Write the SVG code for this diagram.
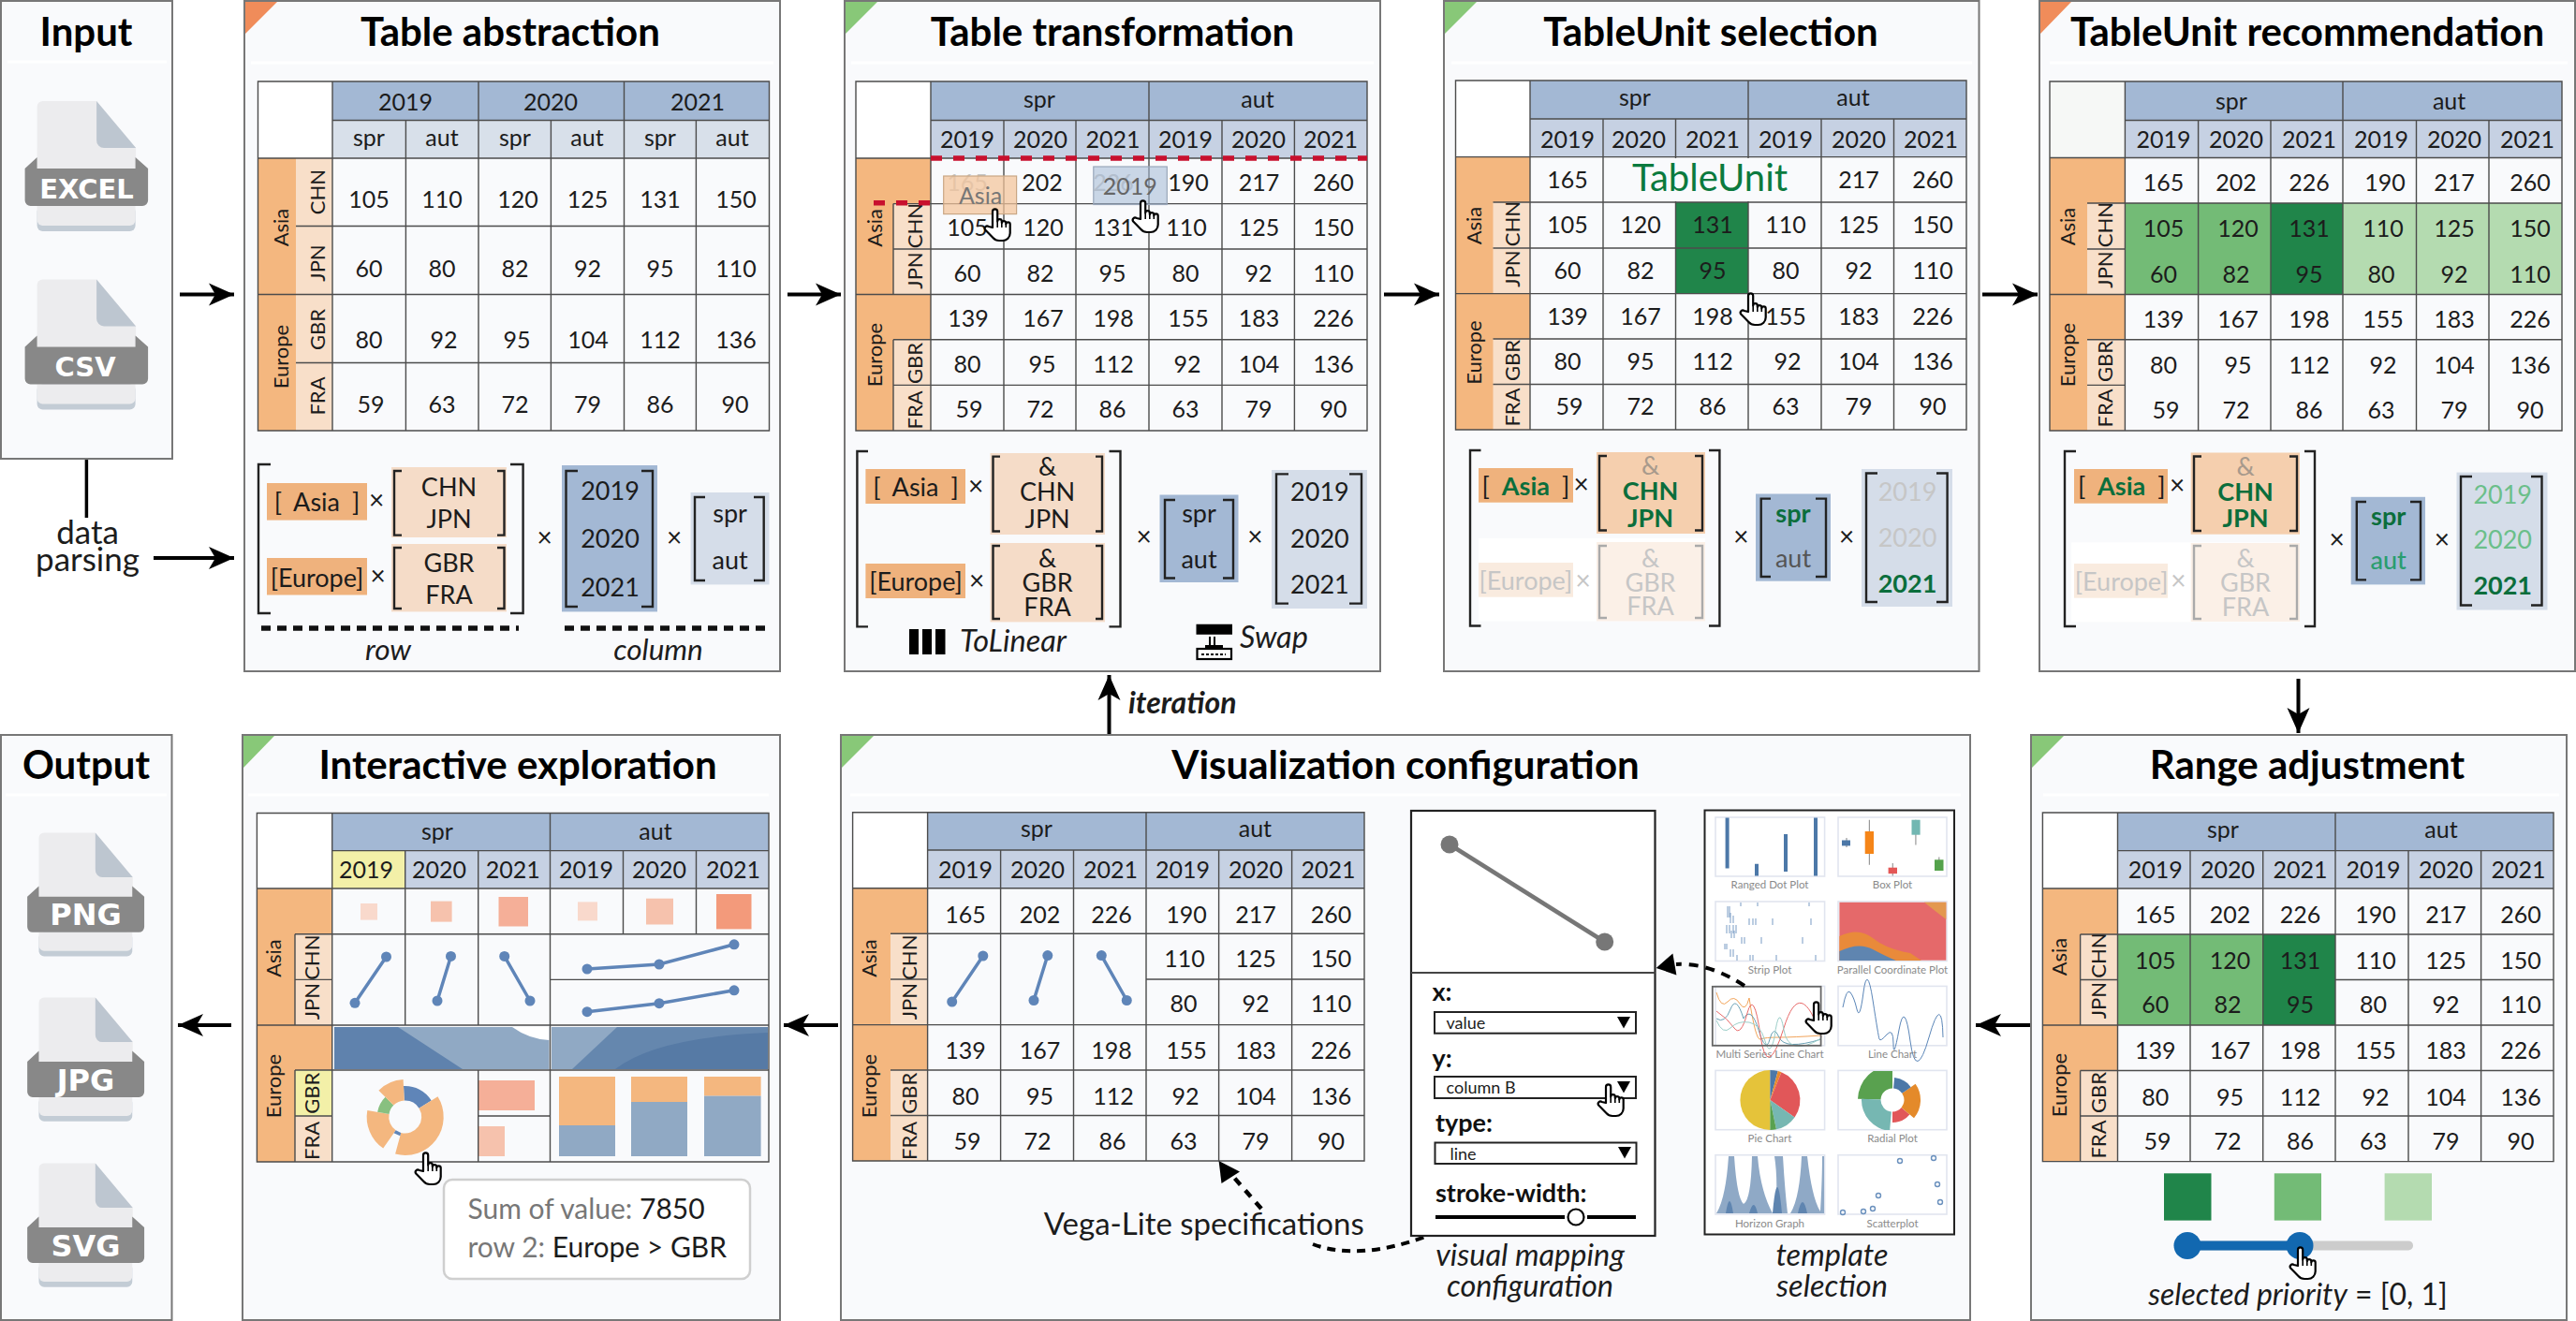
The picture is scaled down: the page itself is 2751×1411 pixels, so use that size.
<svg xmlns="http://www.w3.org/2000/svg" width="2751" height="1411" viewBox="0 0 2751 1411">
<style>
text{font-family:Lato,"Noto Sans","Liberation Sans",sans-serif;fill:#1c1c1c}
.p{fill:#f9fafc;stroke:#777;stroke-width:2}
.u{stroke:#fff;stroke-width:3;fill:none}
.h{font-size:42px;font-weight:700;text-anchor:middle;fill:#000}
.c{font-size:25px;text-anchor:middle}
.r{font-size:22px;text-anchor:middle}
.e{font-size:27px;text-anchor:middle}
.w{word-spacing:6px}
.x{font-size:28px;text-anchor:middle}
.i{font-size:32.500px;font-style:italic;text-anchor:middle}
.gb{font-weight:700;fill:#0b6e3c}
.fd{fill:#c6c6c6}
.ad{fill:#a89a8c}
.d{fill:#a3b8d4}
.s{fill:#c6d1e3}
.o{fill:#f4b77f}
.l{fill:#f8dfc9}
.grid{fill:none;stroke:#4c4c4c;stroke-width:1.4}
.b{fill:none;stroke:#222;stroke-width:2.4}
.bf{fill:none;stroke:#aaa;stroke-width:2.4}
.ft{font-family:"DejaVu Sans",sans-serif;font-weight:700;text-anchor:middle;fill:#fff}
.ln{fill:none;stroke:#5f85b8;stroke-width:3.5}
.dot{fill:#5f85b8}
.tb{fill:#fff;stroke:#e1e5ef;stroke-width:1.6}
.tl{font-size:11.500px;text-anchor:middle;fill:#8a8a8a}
.sel{fill:#fff;stroke:#222;stroke-width:2}
.lb{font-size:27px;font-weight:700;fill:#111}
.vl{font-size:18px}
</style>
<defs>
<marker id="ah" markerUnits="userSpaceOnUse" markerWidth="28" markerHeight="28" refX="27" refY="14" orient="auto"><path d="M0 2L27 14L0 26L7 14Z" fill="#000"/></marker>
<g id="file">
<rect x="0" y="112" width="105" height="27" rx="6" fill="#c3ccd5"/>
<path d="M0 112H105V127a6 6 0 0 1-6 6H6a6 6 0 0 1-6-6Z" fill="#ececee"/>
<path d="M6 0H63.5L105.5 50V72H0V6a6 6 0 0 1 6-6Z" fill="#ececee"/>
<path d="M63.5 0L105.5 50H72a8 8 0 0 1-8.5-8.5Z" fill="#bdc6d0"/>
<path d="M-13 72L0 60V72H105V60L118.5 72V106a6 6 0 0 1-6 6H-7a6 6 0 0 1-6-6Z" fill="#888"/>
</g>
<g id="hand">
<path d="M9 21V4a2.6 2.6 0 0 1 5.2 0V14.5a2.3 2.3 0 0 1 4.6 0V16a2.3 2.3 0 0 1 4.5 0V17.500a2.2 2.2 0 0 1 4.4 0V27a8 8 0 0 1-8 8H16a9 9 0 0 1-6.500-3L1.200 23.500a2.500 2.500 0 0 1 3.500-3.500Z" fill="#fff" stroke="#000" stroke-width="2.200" stroke-linejoin="round"/>
<path d="M14.200 14.500V21M18.800 16V21M23.300 17.500V21" fill="none" stroke="#000" stroke-width="1.600"/>
</g>
<clipPath id="rc"><rect x="1964" y="1144" width="115" height="63"/></clipPath>
</defs>

<g id="connectors">
<g fill="none" stroke="#000" stroke-width="4" marker-end="url(#ah)">
<path d="M192 314.500H250"/>
<path d="M164 596H250"/>
<path d="M841 314.500H898"/>
<path d="M1478 314.500H1537"/>
<path d="M2117 314.500H2176"/>
<path d="M2454.500 725V783"/>
<path d="M2168 1095H2110"/>
<path d="M895 1095H837"/>
<path d="M247 1095H190"/>
<path d="M1184.500 784V721"/>
</g>
<path d="M92.400 489V553" stroke="#000" stroke-width="3.500" fill="none"/>
</g>

<g id="input">
<rect class="p" x="1" y="1" width="183" height="489"/>
<path class="u" d="M8 66H178"/>
<text class="h" x="92" y="49">Input</text>
<use href="#file" x="39.600" y="108"/>
<text class="ft" x="92.500" y="212" font-size="29">EXCEL</text>
<use href="#file" x="39.600" y="298.400"/>
<text class="ft" x="91" y="402" font-size="29">CSV</text>
</g>
<g id="parsing">
<text class="c" x="93.500" y="581" style="font-size:35px">data</text>
<text class="c" x="93.500" y="610" style="font-size:35px">parsing</text>
</g>

<g id="table-abstraction">
<rect class="p" x="261" y="1" width="572" height="716"/>
<path d="M262 2H296L262 36Z" fill="#f08c5a"/>
<path class="u" d="M268 67H826"/>
<text class="h" x="545" y="49">Table abstraction</text>
<rect x="275.500" y="87" width="79.500" height="82" fill="#fff"/>
<rect class="d" x="355" y="87" width="466.500" height="41.500"/>
<rect x="355" y="128.500" width="466.500" height="40.500" fill="#d8e0ea"/>
<rect class="o" x="275.500" y="169" width="40.500" height="291"/>
<rect class="l" x="316" y="169" width="39" height="291"/>
<path class="grid" d="M275.500 87H821.500V460H275.500ZM355 87V460M355 128.500H821.500M275.500 169H821.500M316 241.500H821.500M275.500 314.500H821.500M316 387.500H821.500M511 87V460M666.500 87V460M433.400 128.500V460M588.400 128.500V460M743.400 128.500V460"/>
<text class="c" x="433" y="118">2019</text><text class="c" x="588" y="118">2020</text><text class="c" x="745" y="118">2021</text>
<text class="c" x="394" y="156">spr</text><text class="c" x="472" y="156">aut</text><text class="c" x="550" y="156">spr</text><text class="c" x="627" y="156">aut</text><text class="c" x="705" y="156">spr</text><text class="c" x="782" y="156">aut</text>
<text class="r" x="307.700" y="243" transform="rotate(-90 307.700 243)">Asia</text>
<text class="r" x="307.700" y="381" transform="rotate(-90 307.700 381)">Europe</text>
<text class="r" x="346.700" y="205" transform="rotate(-90 346.700 205)">CHN</text>
<text class="r" x="346.700" y="281" transform="rotate(-90 346.700 281)">JPN</text>
<text class="r" x="346.700" y="352" transform="rotate(-90 346.700 352)">GBR</text>
<text class="r" x="346.700" y="423" transform="rotate(-90 346.700 423)">FRA</text>
<text class="c" x="394" y="222">105</text><text class="c" x="472" y="222">110</text><text class="c" x="553" y="222">120</text><text class="c" x="627.500" y="222">125</text><text class="c" x="705" y="222">131</text><text class="c" x="786" y="222">150</text>
<text class="c" x="394" y="296">60</text><text class="c" x="472" y="296">80</text><text class="c" x="550" y="296">82</text><text class="c" x="627.500" y="296">92</text><text class="c" x="705" y="296">95</text><text class="c" x="786" y="296">110</text>
<text class="c" x="394" y="372">80</text><text class="c" x="474" y="372">92</text><text class="c" x="552" y="372">95</text><text class="c" x="628" y="372">104</text><text class="c" x="705" y="372">112</text><text class="c" x="786" y="372">136</text>
<text class="c" x="396" y="441">59</text><text class="c" x="472" y="441">63</text><text class="c" x="550" y="441">72</text><text class="c" x="627.500" y="441">79</text><text class="c" x="705" y="441">86</text><text class="c" x="785" y="441">90</text>
<path class="b" d="M289 496H276V655H289M545 496H558.600V655H545"/>
<rect x="285" y="516" width="107" height="39.600" fill="#efb27d"/>
<text class="e w" x="338.500" y="545.500">[ Asia ]</text>
<text class="x" x="402" y="544">×</text>
<rect x="418" y="499" width="123" height="75" fill="#f5dcc8"/>
<path class="b" d="M429 503H421V571.600H429M531 503H538.500V571.600H531"/>
<text class="e" x="479.500" y="529.500">CHN</text><text class="e" x="479.500" y="564">JPN</text>
<rect x="285" y="596" width="107" height="39.500" fill="#efb27d"/>
<text class="e" x="338.500" y="626.700">[Europe]</text>
<text class="x" x="403.500" y="625">×</text>
<rect x="418" y="581" width="123" height="72.400" fill="#f5dcc8"/>
<path class="b" d="M429 585H421V650H429M531 585H538.500V650H531"/>
<text class="e" x="479.500" y="610.600">GBR</text><text class="e" x="479.500" y="645">FRA</text>
<text class="x" x="581.500" y="584">×</text>
<rect class="d" x="600" y="497" width="102" height="156.400"/>
<path class="b" d="M617 503H604.500V648H617M685 503H697V648H685"/>
<text class="e" x="651.500" y="533.500">2019</text><text class="e" x="651.500" y="585.400">2020</text><text class="e" x="651.500" y="637">2021</text>
<text class="x" x="720" y="584">×</text>
<rect x="737.600" y="526" width="83.900" height="98.400" fill="#d5dde9"/>
<path class="b" d="M753 531H742V620H753M805 531H815.700V620H805"/>
<text class="e" x="779.600" y="558">spr</text><text class="e" x="779.600" y="608">aut</text>
<path d="M279 671H554M603 671H821.500" fill="none" stroke="#111" stroke-width="5.500" stroke-dasharray="10 7"/>
<text class="i" x="414.500" y="705" style="font-size:31.500px">row</text><text class="i" x="703" y="705" style="font-size:31.500px">column</text>
</g>

<g id="table-transformation">
<rect class="p" x="902" y="1" width="572" height="716"/>
<path d="M903 2H937L903 36Z" fill="#88c878"/>
<path class="u" d="M909 67H1467"/>
<text class="h" x="1188" y="49">Table transformation</text>
<rect x="914" y="87" width="80" height="82" fill="#fff"/>
<rect class="d" x="994" y="87" width="466" height="41.500"/>
<rect class="s" x="994" y="128.500" width="466" height="40.500"/>
<rect class="o" x="914" y="169" width="80" height="291"/>
<rect class="l" x="954" y="217.600" width="40" height="96.900"/>
<rect class="l" x="954" y="362.700" width="40" height="97.300"/>
<path class="grid" d="M914 87H1460V460H914ZM994 87V460M954 217.600V314.500M954 362.700V460M994 128.500H1460M914 169H1460M954 217.600H1460M954 266H1460M914 314.500H1460M954 362.700H1460M954 411.400H1460M1227 87V460M1072 128.500V460M1149 128.500V460M1305 128.500V460M1382.400 128.500V460"/>
<text class="c" x="1110" y="115">spr</text><text class="c" x="1343" y="115">aut</text>
<text class="c" x="1033" y="157.500">2019</text><text class="c" x="1111" y="157.500">2020</text><text class="c" x="1188.500" y="157.500">2021</text><text class="c" x="1266" y="157.500">2019</text><text class="c" x="1344" y="157.500">2020</text><text class="c" x="1421" y="157.500">2021</text>
<text class="r" x="942.400" y="243.400" transform="rotate(-90 942.400 243.400)">Asia</text>
<text class="r" x="942.400" y="379" transform="rotate(-90 942.400 379)">Europe</text>
<text class="r" x="985" y="241" transform="rotate(-90 985 241)">CHN</text>
<text class="r" x="985" y="289" transform="rotate(-90 985 289)">JPN</text>
<text class="r" x="985" y="388" transform="rotate(-90 985 388)">GBR</text>
<text class="r" x="985" y="438" transform="rotate(-90 985 438)">FRA</text>
<text class="c fd" x="1033" y="204">165</text><text class="c" x="1113" y="204">202</text><text class="c fd" x="1189" y="204">226</text><text class="c" x="1269" y="204">190</text><text class="c" x="1344.600" y="204">217</text><text class="c" x="1424" y="204">260</text>
<text class="c" x="1033" y="252">105</text><text class="c" x="1114" y="252">120</text><text class="c" x="1189" y="252">131</text><text class="c" x="1267" y="252">110</text><text class="c" x="1344.600" y="252">125</text><text class="c" x="1424" y="252">150</text>
<text class="c" x="1033" y="300.700">60</text><text class="c" x="1111" y="300.700">82</text><text class="c" x="1188" y="300.700">95</text><text class="c" x="1266" y="300.700">80</text><text class="c" x="1344" y="300.700">92</text><text class="c" x="1424" y="300.700">110</text>
<text class="c" x="1034" y="349">139</text><text class="c" x="1114" y="349">167</text><text class="c" x="1189" y="349">198</text><text class="c" x="1269" y="349">155</text><text class="c" x="1344.600" y="349">183</text><text class="c" x="1424" y="349">226</text>
<text class="c" x="1033" y="398">80</text><text class="c" x="1113" y="398">95</text><text class="c" x="1189" y="398">112</text><text class="c" x="1268" y="398">92</text><text class="c" x="1344.600" y="398">104</text><text class="c" x="1424" y="398">136</text>
<text class="c" x="1035" y="445.500">59</text><text class="c" x="1111" y="445.500">72</text><text class="c" x="1188" y="445.500">86</text><text class="c" x="1266" y="445.500">63</text><text class="c" x="1344" y="445.500">79</text><text class="c" x="1424" y="445.500">90</text>
<path d="M994 169H1460M933 216.700H994" fill="none" stroke="#c8102e" stroke-width="5.500" stroke-dasharray="12 12"/>
<rect x="1007.700" y="188" width="77.900" height="40.600" fill="#f3c39a" fill-opacity=".72" stroke="#c9a785" stroke-width="1.200"/>
<text class="c" x="1047" y="218" style="fill:#777">Asia</text>
<rect x="1167.800" y="178" width="78.500" height="40.500" fill="#a3b8d4" fill-opacity=".55" stroke="#9aa7ba" stroke-width="1.200"/>
<text class="c" x="1206.700" y="208" style="fill:#666">2019</text>
<use href="#hand" x="1051" y="222"/>
<use href="#hand" x="1209" y="213"/>
<path class="b" d="M927 482H915.400V669.400H927M1184.500 482H1196.500V669.400H1184.500"/>
<rect x="924.400" y="501" width="106.600" height="37" fill="#efb27d"/>
<text class="e w" x="978" y="530">[ Asia ]</text>
<text class="x" x="1042" y="529">×</text>
<rect x="1057.500" y="484" width="122.500" height="87" fill="#f5dcc8"/>
<path class="b" d="M1068 487.600H1060.500V567.500H1068M1170 487.600H1177V567.500H1170"/>
<text class="e" x="1118.600" y="508">&amp;</text><text class="e" x="1118.600" y="535">CHN</text><text class="e" x="1118.600" y="564">JPN</text>
<rect x="924.400" y="602" width="106.600" height="37" fill="#efb27d"/>
<text class="e" x="978" y="631">[Europe]</text>
<text class="x" x="1043" y="630">×</text>
<rect x="1057.500" y="580" width="122.500" height="84.400" fill="#f5dcc8"/>
<path class="b" d="M1068 583H1060.500V661H1068M1170 583H1177V661H1170"/>
<text class="e" x="1118.600" y="606">&amp;</text><text class="e" x="1118.600" y="632">GBR</text><text class="e" x="1118.600" y="658">FRA</text>
<text class="x" x="1221.700" y="583">×</text>
<rect class="d" x="1238.500" y="528.500" width="84" height="93.500"/>
<path class="b" d="M1255 534H1244V617.500H1255M1306 534H1317V617.500H1306"/>
<text class="e" x="1280.500" y="558">spr</text><text class="e" x="1280.500" y="607">aut</text>
<text class="x" x="1340.400" y="583">×</text>
<rect x="1358" y="502" width="102" height="148" fill="#d5dde9"/>
<path class="b" d="M1376 506.400H1363V644.600H1376M1441 506.400H1454V644.600H1441"/>
<text class="e" x="1409.400" y="535">2019</text><text class="e" x="1409.400" y="584.500">2020</text><text class="e" x="1409.400" y="633.600">2021</text>
<path d="M971 672h10v27h-10zM985 672h10v27h-10zM999 672h10.500v27h-10.500z" fill="#000"/>
<text class="i" x="1025" y="695.600" style="text-anchor:start">ToLinear</text>
<path d="M1277.500 666.700h38.500v11h-38.500zM1291 680h2v9h-2zM1296 680h2v9h-2zM1287 689h19v3h-19z" fill="#000"/>
<rect x="1278.500" y="693" width="36.500" height="11" fill="#fff" stroke="#000" stroke-width="2.200"/>
<path d="M1283 699h26" stroke="#000" stroke-width="2" stroke-dasharray="3 2"/>
<text class="i" x="1324" y="692" style="text-anchor:start">Swap</text>
</g>

<g id="tableunit-selection">
<rect class="p" x="1542" y="1" width="571.500" height="716"/>
<path d="M1543 2H1577L1543 36Z" fill="#88c878"/>
<path class="u" d="M1550 67H2106"/>
<text class="h" x="1827" y="49">TableUnit selection</text>
<rect x="1554.500" y="86" width="79.500" height="81.600" fill="#fff"/>
<rect class="d" x="1634" y="86" width="466" height="41"/>
<rect class="s" x="1634" y="127" width="466" height="40.600"/>
<rect class="o" x="1554.500" y="167.600" width="79.500" height="291.400"/>
<rect class="l" x="1594.500" y="216" width="39.500" height="97.600"/>
<rect class="l" x="1594.500" y="362" width="39.500" height="97"/>
<rect x="1789.500" y="216" width="77.500" height="97.600" fill="#20854a"/>
<path class="grid" d="M1554.500 86H2100V459H1554.500ZM1634 86V459M1634 127H2100M1554.500 167.600H2100M1594.500 216H2100M1594.500 265H2100M1554.500 313.600H2100M1594.500 362H2100M1594.500 410.500H2100M1867 86V459M1712 127V459M1789.500 127V459M1945 127V459M2022.500 127V459"/>
<text class="c" x="1746" y="113.400">spr</text><text class="c" x="1979" y="113.400">aut</text>
<text class="c" x="1674" y="157.500">2019</text><text class="c" x="1750" y="157.500">2020</text><text class="c" x="1829" y="157.500">2021</text><text class="c" x="1907" y="157.500">2019</text><text class="c" x="1985" y="157.500">2020</text><text class="c" x="2062" y="157.500">2021</text>
<text class="r" x="1581.500" y="241" transform="rotate(-90 1581.500 241)">Asia</text>
<text class="r" x="1581.500" y="376.500" transform="rotate(-90 1581.500 376.500)">Europe</text>
<text class="r" x="1623.400" y="239" transform="rotate(-90 1623.400 239)">CHN</text>
<text class="r" x="1623.400" y="287" transform="rotate(-90 1623.400 287)">JPN</text>
<text class="r" x="1623.400" y="385" transform="rotate(-90 1623.400 385)">GBR</text>
<text class="r" x="1623.400" y="435" transform="rotate(-90 1623.400 435)">FRA</text>
<text class="c" x="1674" y="201">165</text><rect x="1713" y="169" width="230" height="46" fill="#f9fafc"/><text x="1826" y="204" text-anchor="middle" style="font-size:40px;fill:#0b7a3e">TableUnit</text><text class="c" x="1985" y="201">217</text><text class="c" x="2064" y="201">260</text>
<text class="c" x="1674" y="249">105</text><text class="c" x="1752" y="249">120</text><text class="c" x="1829" y="249">131</text><text class="c" x="1907" y="249">110</text><text class="c" x="1985" y="249">125</text><text class="c" x="2064" y="249">150</text>
<text class="c" x="1674" y="298.400">60</text><text class="c" x="1752" y="298.400">82</text><text class="c" x="1829" y="298.400">95</text><text class="c" x="1907" y="298.400">80</text><text class="c" x="1985" y="298.400">92</text><text class="c" x="2064" y="298.400">110</text>
<text class="c" x="1674" y="346.600">139</text><text class="c" x="1752" y="346.600">167</text><text class="c" x="1829" y="346.600">198</text><text class="c" x="1907" y="346.600">155</text><text class="c" x="1985" y="346.600">183</text><text class="c" x="2064" y="346.600">226</text>
<text class="c" x="1674" y="395">80</text><text class="c" x="1752" y="395">95</text><text class="c" x="1829" y="395">112</text><text class="c" x="1909" y="395">92</text><text class="c" x="1985" y="395">104</text><text class="c" x="2064" y="395">136</text>
<text class="c" x="1676" y="443">59</text><text class="c" x="1752" y="443">72</text><text class="c" x="1829" y="443">86</text><text class="c" x="1907" y="443">63</text><text class="c" x="1985" y="443">79</text><text class="c" x="2064" y="443">90</text>
<use href="#hand" x="1858" y="312" />
<rect x="1579" y="575" width="242" height="88.500" fill="#fff"/>
<path class="b" d="M1581.500 481H1570V668.500H1581.500M1825 481H1836.400V668.500H1825"/>
<rect x="1579" y="500" width="101" height="36.700" fill="#efb27d"/>
<text class="e w" x="1629.400" y="529">[ <tspan class="gb">Asia</tspan> ]</text>
<text class="x" x="1688.700" y="527">×</text>
<rect x="1705" y="483" width="116" height="87" fill="#f5cfae"/>
<path class="b" d="M1716 487H1708V566.500H1716M1810 487H1818V566.500H1810"/>
<text class="e ad" x="1762.500" y="507">&amp;</text><text class="e gb" x="1762.500" y="534">CHN</text><text class="e gb" x="1762.500" y="562.500">JPN</text>
<rect x="1579" y="601" width="101" height="36.700" fill="#f9ebdf"/>
<text class="e fd" x="1629.400" y="630">[Europe]</text>
<text class="x fd" x="1690.500" y="630">×</text>
<rect x="1705" y="579" width="116" height="84.500" fill="#fbf0e7"/>
<path class="bf" d="M1716 583H1708V660H1716M1810 583H1818V660H1810"/>
<text class="e fd" x="1762.500" y="606">&amp;</text><text class="e fd" x="1762.500" y="632">GBR</text><text class="e fd" x="1762.500" y="656.600">FRA</text>
<text class="x" x="1859.400" y="583">×</text>
<rect class="d" x="1875" y="527.500" width="80" height="93.200"/>
<path class="b" d="M1891 532.600H1880.700V616H1891M1939 532.600H1950V616H1939"/>
<text class="e gb" x="1915" y="558">spr</text><text class="e" x="1915" y="606" style="fill:#555">aut</text>
<text class="x" x="1972" y="583">×</text>
<rect x="1988" y="501" width="97" height="147" fill="#d5dde9"/>
<path class="b" d="M2005 505.500H1993V643H2005M2068 505.500H2079.600V643H2068"/>
<text class="e fd" x="2037" y="535">2019</text><text class="e fd" x="2037" y="583.600">2020</text><text class="e gb" x="2037" y="632.700">2021</text>
</g>

<g id="tableunit-recommendation">
<rect class="p" x="2178" y="1" width="572" height="716"/>
<path d="M2179 2H2212L2179 36Z" fill="#f08c5a"/>
<path class="u" d="M2189 67H2742"/>
<text class="h" x="2464" y="49">TableUnit recommendation</text>
<rect x="2189" y="87" width="80.400" height="81.500" fill="#f6f8f6"/>
<rect class="d" x="2269.400" y="87" width="466.600" height="41.500"/>
<rect class="s" x="2269.400" y="128.500" width="466.600" height="40"/>
<rect class="o" x="2189" y="168.500" width="80.400" height="291.500"/>
<rect class="l" x="2229" y="217" width="40.400" height="97.500"/>
<rect class="l" x="2229" y="362.700" width="40.400" height="97.300"/>
<rect x="2269.400" y="217" width="155.600" height="97.500" fill="#73bb76"/>
<rect x="2425" y="217" width="77" height="97.500" fill="#20854a"/>
<rect x="2502" y="217" width="234" height="97.500" fill="#b4dbb0"/>
<path class="grid" d="M2189 87H2736V460H2189ZM2269.400 87V460M2269.400 128.500H2736M2189 168.500H2736M2229 217H2736M2189 314.500H2736M2229 362.700H2736M2229 266H2269.400M2229 411.400H2269.400M2502 87V460M2347.600 128.500V460M2425 128.500V460M2580.500 128.500V460M2658 128.500V460"/>
<text class="c" x="2383" y="117">spr</text><text class="c" x="2615.600" y="117">aut</text>
<text class="c" x="2310.600" y="157.500">2019</text><text class="c" x="2388" y="157.500">2020</text><text class="c" x="2466" y="157.500">2021</text><text class="c" x="2543" y="157.500">2019</text><text class="c" x="2621" y="157.500">2020</text><text class="c" x="2699" y="157.500">2021</text>
<text class="r" x="2216" y="242" transform="rotate(-90 2216 242)">Asia</text>
<text class="r" x="2216" y="379" transform="rotate(-90 2216 379)">Europe</text>
<text class="r" x="2256" y="240" transform="rotate(-90 2256 240)">CHN</text>
<text class="r" x="2256" y="288" transform="rotate(-90 2256 288)">JPN</text>
<text class="r" x="2256" y="386" transform="rotate(-90 2256 386)">GBR</text>
<text class="r" x="2256" y="436" transform="rotate(-90 2256 436)">FRA</text>
<text class="c" x="2310.600" y="204">165</text><text class="c" x="2388" y="204">202</text><text class="c" x="2466" y="204">226</text><text class="c" x="2547" y="204">190</text><text class="c" x="2621" y="204">217</text><text class="c" x="2702" y="204">260</text>
<text class="c" x="2310.600" y="252.500">105</text><text class="c" x="2390" y="252.500">120</text><text class="c" x="2466" y="252.500">131</text><text class="c" x="2545" y="252.500">110</text><text class="c" x="2621" y="252.500">125</text><text class="c" x="2702" y="252.500">150</text>
<text class="c" x="2310.600" y="301.600">60</text><text class="c" x="2388" y="301.600">82</text><text class="c" x="2466" y="301.600">95</text><text class="c" x="2543" y="301.600">80</text><text class="c" x="2621" y="301.600">92</text><text class="c" x="2702" y="301.600">110</text>
<text class="c" x="2310.600" y="350">139</text><text class="c" x="2390" y="350">167</text><text class="c" x="2466" y="350">198</text><text class="c" x="2545" y="350">155</text><text class="c" x="2621" y="350">183</text><text class="c" x="2702" y="350">226</text>
<text class="c" x="2310.600" y="398.500">80</text><text class="c" x="2390" y="398.500">95</text><text class="c" x="2466" y="398.500">112</text><text class="c" x="2545" y="398.500">92</text><text class="c" x="2621" y="398.500">104</text><text class="c" x="2702" y="398.500">136</text>
<text class="c" x="2313" y="446.700">59</text><text class="c" x="2388" y="446.700">72</text><text class="c" x="2466" y="446.700">86</text><text class="c" x="2543" y="446.700">63</text><text class="c" x="2621" y="446.700">79</text><text class="c" x="2702" y="446.700">90</text>
<rect x="2212" y="579.400" width="244" height="85" fill="#fff"/>
<path class="b" d="M2217 482H2205V669H2217M2461 482H2472V669H2461"/>
<rect x="2215" y="501" width="100" height="36.700" fill="#efb27d"/>
<text class="e w" x="2265.700" y="529">[ <tspan class="gb">Asia</tspan> ]</text>
<text class="x" x="2325" y="528">×</text>
<rect x="2339.700" y="483.500" width="116.300" height="87.200" fill="#f5cfae"/>
<path class="b" d="M2351 487.500H2343V567H2351M2445 487.500H2453V567H2445"/>
<text class="e ad" x="2398" y="508">&amp;</text><text class="e gb" x="2398" y="535">CHN</text><text class="e gb" x="2398" y="562.500">JPN</text>
<rect x="2215" y="602" width="100" height="36.700" fill="#f9ebdf"/>
<text class="e fd" x="2265.700" y="631">[Europe]</text>
<text class="x fd" x="2326.400" y="630">×</text>
<rect x="2339.700" y="580" width="116.300" height="84" fill="#fbf0e7"/>
<path class="bf" d="M2351 583H2343V661H2351M2445 583H2453V661H2445"/>
<text class="e fd" x="2398" y="606">&amp;</text><text class="e fd" x="2398" y="632">GBR</text><text class="e fd" x="2398" y="657.500">FRA</text>
<text class="x" x="2495.600" y="586">×</text>
<rect class="d" x="2510.700" y="530.800" width="79.300" height="93.600"/>
<path class="b" d="M2527 536H2516.800V619.400H2527M2574 536H2585V619.400H2574"/>
<text class="e gb" x="2550.700" y="561">spr</text><text class="e" x="2550.700" y="608" style="fill:#2a9d6f;font-weight:500">aut</text>
<text class="x" x="2607.800" y="586">×</text>
<rect x="2623.500" y="504.600" width="97" height="146.900" fill="#d5dde9"/>
<path class="b" d="M2640 509H2628V646.500H2640M2703 509H2714.500V646.500H2703"/>
<text class="e" x="2672.700" y="538" style="fill:#6bbf8a">2019</text><text class="e" x="2672.700" y="586" style="fill:#6bbf8a">2020</text><text class="e gb" x="2672.700" y="635">2021</text>
</g>

<g id="range-adjustment">
<rect class="p" x="2169" y="785" width="572" height="625"/>
<path d="M2170 786H2204L2170 820Z" fill="#88c878"/>
<path class="u" d="M2182 849H2733"/>
<text class="h" x="2464" y="832">Range adjustment</text>
<rect x="2181.400" y="868" width="80.100" height="81" fill="#fff"/>
<rect class="d" x="2261.500" y="868" width="465.500" height="40.600"/>
<rect class="s" x="2261.500" y="908.600" width="465.500" height="40.400"/>
<rect class="o" x="2181.400" y="949" width="80.100" height="291.600"/>
<rect class="l" x="2221.600" y="998" width="39.900" height="97"/>
<rect class="l" x="2221.600" y="1143.500" width="39.900" height="97.100"/>
<rect x="2261.500" y="998" width="155.200" height="97" fill="#73bb76"/>
<rect x="2416.700" y="998" width="77.300" height="97" fill="#20854a"/>
<path class="grid" d="M2181.400 868H2727V1240.600H2181.400ZM2261.500 868V1240.600M2221.600 998V1095M2221.600 1143.500V1240.600M2261.500 908.600H2727M2181.400 949H2727M2221.600 998H2727M2494 1046.500H2727M2221.600 1046.500H2261.500M2181.400 1095H2727M2221.600 1143.500H2727M2221.600 1192H2727M2494 868V1240.600M2339 908.600V1240.600M2416.700 908.600V1240.600M2572 908.600V1240.600M2649.600 908.600V1240.600"/>
<text class="c" x="2374" y="895">spr</text><text class="c" x="2607" y="895">aut</text>
<text class="c" x="2301.700" y="938">2019</text><text class="c" x="2379" y="938">2020</text><text class="c" x="2456.600" y="938">2021</text><text class="c" x="2534.500" y="938">2019</text><text class="c" x="2612" y="938">2020</text><text class="c" x="2689.500" y="938">2021</text>
<text class="r" x="2207" y="1022" transform="rotate(-90 2207 1022)">Asia</text>
<text class="r" x="2207" y="1159" transform="rotate(-90 2207 1159)">Europe</text>
<text class="r" x="2248.600" y="1020.600" transform="rotate(-90 2248.600 1020.600)">CHN</text>
<text class="r" x="2248.600" y="1068.700" transform="rotate(-90 2248.600 1068.700)">JPN</text>
<text class="r" x="2248.600" y="1167" transform="rotate(-90 2248.600 1167)">GBR</text>
<text class="r" x="2248.600" y="1217" transform="rotate(-90 2248.600 1217)">FRA</text>
<text class="c" x="2301.700" y="985.700">165</text><text class="c" x="2381.400" y="985.700">202</text><text class="c" x="2456.600" y="985.700">226</text><text class="c" x="2537" y="985.700">190</text><text class="c" x="2612" y="985.700">217</text><text class="c" x="2692" y="985.700">260</text>
<text class="c" x="2301.700" y="1034.700">105</text><text class="c" x="2381.400" y="1034.700">120</text><text class="c" x="2456.600" y="1034.700">131</text><text class="c" x="2537" y="1034.700">110</text><text class="c" x="2612" y="1034.700">125</text><text class="c" x="2692" y="1034.700">150</text>
<text class="c" x="2301.700" y="1082">60</text><text class="c" x="2379" y="1082">82</text><text class="c" x="2456.600" y="1082">95</text><text class="c" x="2534.500" y="1082">80</text><text class="c" x="2612" y="1082">92</text><text class="c" x="2692" y="1082">110</text>
<text class="c" x="2301.700" y="1131">139</text><text class="c" x="2381.400" y="1131">167</text><text class="c" x="2456.600" y="1131">198</text><text class="c" x="2537" y="1131">155</text><text class="c" x="2612" y="1131">183</text><text class="c" x="2692" y="1131">226</text>
<text class="c" x="2301.700" y="1180.700">80</text><text class="c" x="2381.400" y="1180.700">95</text><text class="c" x="2456.600" y="1180.700">112</text><text class="c" x="2537" y="1180.700">92</text><text class="c" x="2612" y="1180.700">104</text><text class="c" x="2692" y="1180.700">136</text>
<text class="c" x="2304" y="1228">59</text><text class="c" x="2379" y="1228">72</text><text class="c" x="2456.600" y="1228">86</text><text class="c" x="2534.500" y="1228">63</text><text class="c" x="2612" y="1228">79</text><text class="c" x="2692" y="1228">90</text>
<rect x="2311" y="1253.300" width="50.500" height="50.300" fill="#20854a"/>
<rect x="2428.800" y="1253.300" width="50.200" height="50.300" fill="#73bb76"/>
<rect x="2546.600" y="1253.300" width="50.400" height="50.300" fill="#b4dbb0"/>
<path d="M2336 1330.400H2572" stroke="#ccc" stroke-width="10" stroke-linecap="round"/>
<path d="M2336 1330.400H2456" stroke="#1268b0" stroke-width="10"/>
<circle cx="2336" cy="1330.400" r="14.500" fill="#1268b0"/>
<circle cx="2456" cy="1330.400" r="14.500" fill="#1268b0"/>
<use href="#hand" x="2445" y="1331"/>
<text x="2454" y="1394" text-anchor="middle" style="font-size:32px"><tspan font-style="italic">selected priority</tspan> = [0, 1]</text>
</g>

<g id="visualization-configuration">
<rect class="p" x="898" y="785" width="1206" height="625"/>
<path d="M899 786H933L899 820Z" fill="#88c878"/>
<path class="u" d="M908 849H2094"/>
<text class="h" x="1501" y="832">Visualization configuration</text>
<rect x="910.600" y="867.700" width="80" height="81" fill="#fff"/>
<rect class="d" x="990.600" y="867.700" width="466.400" height="40.300"/>
<rect class="s" x="990.600" y="908" width="466.400" height="40.700"/>
<rect class="o" x="910.600" y="948.700" width="80" height="291.300"/>
<rect class="l" x="951" y="997.300" width="39.600" height="97.300"/>
<rect class="l" x="951" y="1143" width="39.600" height="97"/>
<path class="grid" d="M910.600 867.700H1457V1240H910.600ZM990.600 867.700V1240M990.600 908H1457M910.600 948.700H1457M951 997.300H1457M1224 1046H1457M951 1046H990.600M910.600 1094.600H1457M951 1143H1457M951 1191.500H1457M1224 867.700V1240M1068.600 908V1240M1146.500 908V1240M1301.600 908V1240M1379.600 908V1240"/>
<text class="c" x="1107" y="894">spr</text><text class="c" x="1340.400" y="894">aut</text>
<text class="c" x="1031" y="938">2019</text><text class="c" x="1108" y="938">2020</text><text class="c" x="1186" y="938">2021</text><text class="c" x="1263" y="938">2019</text><text class="c" x="1341" y="938">2020</text><text class="c" x="1418.500" y="938">2021</text>
<text class="r" x="936.300" y="1023.500" transform="rotate(-90 936.300 1023.500)">Asia</text>
<text class="r" x="936.300" y="1160" transform="rotate(-90 936.300 1160)">Europe</text>
<text class="r" x="978.800" y="1022.700" transform="rotate(-90 978.800 1022.700)">CHN</text>
<text class="r" x="978.800" y="1069.700" transform="rotate(-90 978.800 1069.700)">JPN</text>
<text class="r" x="978.800" y="1167.800" transform="rotate(-90 978.800 1167.800)">GBR</text>
<text class="r" x="978.800" y="1218.500" transform="rotate(-90 978.800 1218.500)">FRA</text>
<text class="c" x="1031" y="986">165</text><text class="c" x="1110.600" y="986">202</text><text class="c" x="1187" y="986">226</text><text class="c" x="1267" y="986">190</text><text class="c" x="1341" y="986">217</text><text class="c" x="1421.600" y="986">260</text>
<text class="c" x="1265" y="1033">110</text><text class="c" x="1341" y="1033">125</text><text class="c" x="1421.600" y="1033">150</text>
<text class="c" x="1264" y="1080.700">80</text><text class="c" x="1341" y="1080.700">92</text><text class="c" x="1421.600" y="1080.700">110</text>
<text class="c" x="1031" y="1131">139</text><text class="c" x="1110.600" y="1131">167</text><text class="c" x="1187" y="1131">198</text><text class="c" x="1267" y="1131">155</text><text class="c" x="1341" y="1131">183</text><text class="c" x="1421.600" y="1131">226</text>
<text class="c" x="1031" y="1180">80</text><text class="c" x="1110.600" y="1180">95</text><text class="c" x="1189" y="1180">112</text><text class="c" x="1266" y="1180">92</text><text class="c" x="1341" y="1180">104</text><text class="c" x="1421.600" y="1180">136</text>
<text class="c" x="1033" y="1228">59</text><text class="c" x="1108" y="1228">72</text><text class="c" x="1188" y="1228">86</text><text class="c" x="1264" y="1228">63</text><text class="c" x="1341" y="1228">79</text><text class="c" x="1421.600" y="1228">90</text>
<path class="ln" d="M1016.700 1070L1049.800 1021M1104 1068.500L1118.800 1020.600M1176.300 1020.600L1203.300 1068.500"/>
<g class="dot"><circle cx="1016.700" cy="1070" r="5.500"/><circle cx="1049.800" cy="1021" r="5.500"/><circle cx="1104" cy="1068.500" r="5.500"/><circle cx="1118.800" cy="1020.600" r="5.500"/><circle cx="1176.300" cy="1020.600" r="5.500"/><circle cx="1203.300" cy="1068.500" r="5.500"/></g>
<text x="1114.700" y="1319" style="font-size:33px">Vega-Lite specifications</text>
<path d="M1347 1291L1312 1251" fill="none" stroke="#000" stroke-width="4.500" stroke-dasharray="9 8"/>
<path d="M1301.600 1240L1324 1251.500L1304.500 1264Z" fill="#000"/>
<path d="M1402 1329Q1450 1347 1522 1321" fill="none" stroke="#000" stroke-width="4" stroke-dasharray="9 7"/>

<g id="mapping-panel">
<rect x="1507" y="866" width="260.500" height="454" fill="#fff" stroke="#222" stroke-width="2.200"/>
<path d="M1507 1039H1767.500" stroke="#444" stroke-width="2.200"/>
<path d="M1548 902L1713.700 1006" stroke="#777" stroke-width="4.500"/>
<circle cx="1548" cy="902" r="9.500" fill="#777"/><circle cx="1713.700" cy="1006" r="9.500" fill="#777"/>
<text class="lb" x="1529.400" y="1069.400">x:</text>
<rect class="sel" x="1532" y="1081" width="215" height="22.700"/>
<text class="vl" x="1544.500" y="1099">value</text>
<path d="M1727 1086H1741L1734 1098.500Z" fill="#000"/>
<text class="lb" x="1529.400" y="1140">y:</text>
<rect class="sel" x="1532" y="1150" width="215" height="23"/>
<text class="vl" x="1544.500" y="1168">column B</text>
<path d="M1727 1155H1741L1734 1167.500Z" fill="#000"/>
<use href="#hand" x="1706" y="1157"/>
<text class="lb" x="1533" y="1208.500">type:</text>
<rect class="sel" x="1532.500" y="1220.500" width="215" height="22.500"/>
<text class="vl" x="1548.500" y="1238.500">line</text>
<path d="M1728 1225H1742L1735 1237.500Z" fill="#000"/>
<text class="lb" x="1533" y="1283.500">stroke-width:</text>
<path d="M1533 1300H1671M1695 1300H1747" stroke="#000" stroke-width="3.800"/>
<circle cx="1683" cy="1300" r="8.500" fill="#fff" stroke="#000" stroke-width="2.200"/>
<text class="i" x="1634" y="1351.600">visual mapping</text>
<text class="i" x="1634" y="1385">configuration</text>
</g>

<g id="template-panel">
<rect x="1820.500" y="865.500" width="266.500" height="453" fill="#fff" stroke="#222" stroke-width="2"/>
<rect class="tb" x="1832" y="873" width="116.600" height="63"/><rect class="tb" x="1963" y="873" width="116" height="63"/>
<rect class="tb" x="1832" y="963" width="116.600" height="63.500"/><rect class="tb" x="1963" y="963" width="116" height="63.500"/>
<rect class="tb" x="1832" y="1053.400" width="116.600" height="63.400"/><rect class="tb" x="1963" y="1053.400" width="116" height="63.400"/>
<rect class="tb" x="1832" y="1143.400" width="116.600" height="63.300"/><rect class="tb" x="1963" y="1143.400" width="116" height="63.300"/>
<rect class="tb" x="1832" y="1233.700" width="116.600" height="63.300"/><rect class="tb" x="1963" y="1233.700" width="116" height="63.300"/>
<text class="tl" x="1890" y="949">Ranged Dot Plot</text><text class="tl" x="2021" y="949">Box Plot</text>
<text class="tl" x="1890" y="1039.600">Strip Plot</text><text class="tl" x="2021" y="1039.600">Parallel Coordinate Plot</text>
<text class="tl" x="1890" y="1129.500">Multi Series Line Chart</text><text class="tl" x="2021" y="1129.500">Line Chart</text>
<text class="tl" x="1890" y="1220">Pie Chart</text><text class="tl" x="2021" y="1220">Radial Plot</text>
<text class="tl" x="1890" y="1310.500">Horizon Graph</text><text class="tl" x="2021" y="1310.500">Scatterplot</text>
<path d="M1842.600 873.500h4v53.900h-4zM1874 922.700h4v12.700h-4zM1905 891h4v40h-4zM1937 873.500h4v61.900h-4z" fill="#4c78a8"/>
<path d="M1972 895v10M1996.400 875.700V923.800M2045.900 875.700V902.600M2021.300 922V935.400M2070.800 915.400V930" stroke="#999" stroke-width="1.200"/>
<rect x="1967" y="897.500" width="9" height="5.900" fill="#4c78a8"/><rect x="1991.700" y="888" width="9.300" height="24" fill="#f58518"/><rect x="2041.500" y="875.700" width="9.100" height="16" fill="#72b7b2"/><rect x="2016.600" y="926.700" width="9.400" height="6.500" fill="#e45756"/><rect x="2066" y="918.300" width="9.500" height="11.700" fill="#54a24b"/>
<path d="M1845 968v12M1847 968v12M1848 975v11M1851 978v8M1859 964v4M1877 964v4M1932 964v4M1868 981v7M1872 981v7M1875 981v7M1893 981v7M1934 981v7M1844 988v9M1847 988v9M1851 988v9M1854 988v9M1849 994v8M1852 994v8M1860 1001v7M1863 1001v7M1881 1001v7M1925 1001v7M1842 1008v6M1844 1008v6M1848 1014v8M1851 1014v8M1855 1020v6M1869 1020v6M1872 1020v6M1897 1020v6M1939 1020v6" stroke="#6a90bd" stroke-width="1.200" fill="none" opacity=".75"/>
<rect x="1964.400" y="963.800" width="113.900" height="61.900" fill="#e5696a"/>
<path d="M1964.400 1000Q1985 990 2000 1002T2040 1018L2052 1026H1964.400Z" fill="#e98a3a"/>
<path d="M1964.400 1016Q1985 1006 2000 1014T2025 1026H1964.400Z" fill="#5f85b0"/>
<path d="M2055 963.800H2078.300V982Q2065 972 2055 963.800Z" fill="#e3984f"/>
<g fill="none" stroke-width="1">
<path d="M1833 1060Q1838 1078 1845 1070T1858 1072T1868 1066Q1875 1112 1880 1110T1900 1108T1945 1106" stroke="#f2a45a"/>
<path d="M1833 1088Q1842 1094 1848 1078T1862 1088Q1870 1074 1878 1100T1890 1110T1900 1108T1945 1110" stroke="#6aa1b5"/>
<path d="M1833 1080Q1845 1088 1852 1098T1866 1082T1880 1106T1905 1098T1945 1108" stroke="#e86a6a"/>
<path d="M1833 1090Q1840 1106 1848 1098T1868 1092T1885 1112T1895 1108Q1900 1070 1905 1100T1945 1109" stroke="#9ccfc9"/>
<path d="M1968 1076Q1972 1055 1976 1060T1983 1078T1990 1060T2000 1068T2007 1110T2015 1105T2022 1115T2028 1100T2040 1112T2060 1108T2075 1108" stroke="#5b86b8"/>
</g>
<path d="M1890.400 1175L1890.400 1207A32 32 0 0 1 1890.400 1143Z" fill="#e5c33a"/>
<path d="M1890.400 1175L1890.400 1143A32 32 0 0 1 1898.700 1144.100Z" fill="#4c78a8"/>
<path d="M1890.400 1175L1898.700 1144.100A32 32 0 0 1 1902.400 1145.300Z" fill="#e98a2a"/>
<path d="M1890.400 1175L1902.400 1145.300A32 32 0 0 1 1916.600 1193.400Z" fill="#e15759"/>
<path d="M1890.400 1175L1916.600 1193.400A32 32 0 0 1 1897 1206.300Z" fill="#76b7b2"/>
<path d="M1890.400 1175L1897 1206.300A32 32 0 0 1 1890.400 1207Z" fill="#59a14f"/>
<g clip-path="url(#rc)">
<path d="M1984 1173.700A37 37 0 0 1 2021 1138V1162.500A12.500 12.500 0 0 0 2008.500 1174.600Z" fill="#59a14f"/>
<path d="M2018.100 1207.900A33 33 0 0 1 1988 1173.800L2008.500 1174.600A12.500 12.500 0 0 0 2019.900 1187.500Z" fill="#76b7b2"/>
<path d="M2039.400 1190.400A24 24 0 0 1 2021 1199V1187.500A12.500 12.500 0 0 0 2030.600 1183Z" fill="#e15759"/>
<path d="M2045.600 1157.800A30 30 0 0 1 2044 1194.300L2030.600 1183A12.500 12.500 0 0 0 2031.200 1167.800Z" fill="#e48a2a"/>
<path d="M2023.100 1151.100A24 24 0 0 1 2040.700 1161.200L2031.200 1167.800A12.500 12.500 0 0 0 2022.100 1162.500Z" fill="#4c78a8"/>
</g>
<path d="M1833 1296Q1843 1280 1846 1235H1852Q1855 1280 1862 1286Q1870 1282 1871 1235H1877Q1880 1272 1893 1296H1896Q1899 1260 1895 1235H1904Q1906 1270 1909 1296H1912Q1922 1280 1924 1235H1930Q1935 1280 1944 1294Q1946 1260 1946 1235H1948V1296Z" fill="#8fa9c6"/>
<path d="M1843 1296Q1847 1270 1851 1296ZM1868 1296Q1873 1278 1877 1296ZM1893 1296Q1898 1240 1903 1296ZM1920 1296Q1925 1272 1930 1296Z" fill="#5f85b0"/>
<g fill="none" stroke="#6a90bd" stroke-width="1.400"><circle cx="2029" cy="1240" r="2.500"/><circle cx="2065" cy="1237" r="2.500"/><circle cx="2069" cy="1265" r="2.500"/><circle cx="2006" cy="1277" r="2.500"/><circle cx="2072" cy="1284" r="2.500"/><circle cx="2000" cy="1291" r="2.500"/><circle cx="1968" cy="1295" r="2.500"/><circle cx="1990" cy="1294" r="2.500"/></g>
<rect x="1828.800" y="1053.800" width="115.800" height="63" fill="none" stroke="#666" stroke-width="1.800"/>
<use href="#hand" x="1928" y="1069"/>
<text class="i" x="1956.500" y="1351.600">template</text>
<text class="i" x="1956.500" y="1385">selection</text>
</g>
<path d="M1863 1053Q1825 1028 1790 1030" fill="none" stroke="#000" stroke-width="4" stroke-dasharray="10 8"/>
<path d="M1768.700 1034L1786.400 1018.400L1790.400 1041.400Z" fill="#000"/>
</g>

<g id="iteration-label">
<text x="1205" y="762" style="font-size:32px;font-weight:700;font-style:italic">iteration</text>
</g>

<g id="interactive-exploration">
<rect class="p" x="259" y="785" width="574" height="625"/>
<path d="M260 786H293L260 820Z" fill="#88c878"/>
<path class="u" d="M265 849H821"/>
<text class="h" x="553" y="832">Interactive exploration</text>
<rect x="274.400" y="868.500" width="80.300" height="80.500" fill="#fff"/>
<rect class="d" x="354.700" y="868.500" width="466.300" height="40.100"/>
<rect class="s" x="354.700" y="908.600" width="466.300" height="40.400"/>
<rect x="354.700" y="908.600" width="78" height="40.400" fill="#f3f0a8"/>
<rect class="o" x="274.400" y="949" width="80.300" height="292"/>
<rect class="l" x="315" y="997.700" width="39.700" height="97.300"/>
<rect class="l" x="315" y="1143" width="39.700" height="98"/>
<rect x="315" y="1143" width="39.700" height="49" fill="#f3f0a8"/>
<rect x="385" y="965" width="18" height="17.600" fill="#f9d9cc"/><rect x="460" y="962.600" width="22.600" height="22" fill="#f6c2ad"/><rect x="532.500" y="958" width="31.500" height="31.500" fill="#f5af98"/><rect x="617" y="963.400" width="21" height="20" fill="#f9d9cc"/><rect x="690" y="959.700" width="29" height="27.800" fill="#f6c2ad"/><rect x="765" y="955" width="37.500" height="37.400" fill="#f39a7b"/>
<rect x="357" y="1097" width="229.400" height="45" fill="#90a9c4"/>
<path d="M357 1097H425L494 1142H357Z" fill="#5f82ad"/>
<path d="M547 1097H586.400V1111Q565 1110 547 1097Z" fill="#fff"/>
<rect x="589" y="1097" width="231" height="45" fill="#6587ae"/>
<path d="M589 1097H659L611 1142H589Z" fill="#90a9c4"/>
<path d="M657 1142Q700 1108 820 1103V1142Z" fill="#567aa5"/>
<rect x="511" y="1154" width="60" height="32" fill="#f5af98"/><rect x="511" y="1203" width="28" height="32" fill="#f6c2ad"/>
<rect x="597" y="1150" width="60" height="52" fill="#f4b77f"/><rect x="597" y="1202" width="60" height="33" fill="#90a9c4"/>
<rect x="674" y="1150" width="60" height="27" fill="#f4b77f"/><rect x="674" y="1177" width="60" height="58" fill="#90a9c4"/>
<rect x="752" y="1150" width="60.600" height="20.600" fill="#f4b77f"/><rect x="752" y="1170.600" width="60.600" height="64.400" fill="#90a9c4"/>
<path class="grid" d="M274.400 868.500H821V1241H274.400ZM354.700 868.500V1241M315 997.700V1095M315 1143V1241M354.700 908.600H821M274.400 949H821M315 997.700H821M587.500 1046.400H821M315 1046.400H354.700M274.400 1095H821M315 1143H821M510.700 1192H587.500M315 1192H354.700M587.500 868.500V1241M432.700 908.600V1095M510.700 908.600V1095M665.500 908.600V997.700M743.500 908.600V997.700M510.700 1143V1241"/>
<text class="c" x="467" y="896.700">spr</text><text class="c" x="700" y="896.700">aut</text>
<text class="c" x="391" y="937.600">2019</text><text class="c" x="469" y="937.600">2020</text><text class="c" x="547.700" y="937.600">2021</text><text class="c" x="626" y="937.600">2019</text><text class="c" x="704" y="937.600">2020</text><text class="c" x="783" y="937.600">2021</text>
<text class="r" x="299.700" y="1023.500" transform="rotate(-90 299.700 1023.500)">Asia</text>
<text class="r" x="299.700" y="1160" transform="rotate(-90 299.700 1160)">Europe</text>
<text class="r" x="341" y="1022.700" transform="rotate(-90 341 1022.700)">CHN</text>
<text class="r" x="341" y="1069.700" transform="rotate(-90 341 1069.700)">JPN</text>
<text class="r" x="341" y="1167.800" transform="rotate(-90 341 1167.800)">GBR</text>
<text class="r" x="341" y="1218.500" transform="rotate(-90 341 1218.500)">FRA</text>
<path class="ln" d="M379 1071.300L412.500 1022M467 1069L481.500 1021.400M538.700 1021.400L566 1069M627 1035L704 1030L784 1008.800M627 1080.700L704 1071.700L784 1057.800"/>
<g class="dot"><circle cx="379" cy="1071.300" r="5.500"/><circle cx="412.500" cy="1022" r="5.500"/><circle cx="467" cy="1069" r="5.500"/><circle cx="481.500" cy="1021.400" r="5.500"/><circle cx="538.700" cy="1021.400" r="5.500"/><circle cx="566" cy="1069" r="5.500"/><circle cx="627" cy="1035" r="5.500"/><circle cx="704" cy="1030" r="5.500"/><circle cx="784" cy="1008.800" r="5.500"/><circle cx="627" cy="1080.700" r="5.500"/><circle cx="704" cy="1071.700" r="5.500"/><circle cx="784" cy="1057.800" r="5.500"/></g>
<path d="M431 1160A33 33 0 0 1 460.700 1175.500L447.500 1183.700A17.500 17.500 0 0 0 431.800 1175.500Z" fill="#5f85b8"/>
<path d="M467.500 1171.300A41 41 0 0 1 422.100 1232.600L428.200 1209.900A17.500 17.500 0 0 0 447.500 1183.700Z" fill="#f4b77f"/>
<path d="M409.200 1226.600A41 41 0 0 1 392.300 1185.900L415.500 1190A17.500 17.500 0 0 0 422.700 1207.300Z" fill="#f4b77f"/>
<path d="M403.100 1187.800A30 30 0 0 1 411.500 1171.800L420.300 1180.600A17.500 17.500 0 0 0 415.500 1190Z" fill="#88c080"/>
<path d="M404.400 1164.700A40 40 0 0 1 430.600 1153L431.800 1175.500A17.500 17.500 0 0 0 420.300 1180.600Z" fill="#f4b77f"/>
<path d="M427.300 1213.300L420.600 1210.200L422.700 1207.300L428.200 1209.900Z" fill="#5f85b8"/>
<use href="#hand" x="443" y="1230"/>
<rect x="474" y="1260" width="327" height="106" rx="9" fill="#fff" stroke="#cfcfcf" stroke-width="2.500"/>
<text x="499.500" y="1301.500" style="font-size:30px;fill:#777">Sum of value: <tspan style="fill:#1c1c1c">7850</tspan></text>
<text x="499.500" y="1343" style="font-size:30px;fill:#777">row 2: <tspan style="fill:#1c1c1c">Europe &gt; GBR</tspan></text>
</g>

<g id="output">
<rect class="p" x="1" y="785" width="182.500" height="625"/>
<path class="u" d="M6 849H178"/>
<text class="h" x="92" y="832">Output</text>
<use href="#file" transform="translate(41.500 889.400) scale(.95)"/>
<text class="ft" x="91.500" y="988" font-size="32">PNG</text>
<use href="#file" transform="translate(41.500 1065.600) scale(.95)"/>
<text class="ft" x="91.500" y="1165" font-size="32">JPG</text>
<use href="#file" transform="translate(41.500 1242.600) scale(.95)"/>
<text class="ft" x="91.500" y="1341.500" font-size="32">SVG</text>
</g>
</svg>
